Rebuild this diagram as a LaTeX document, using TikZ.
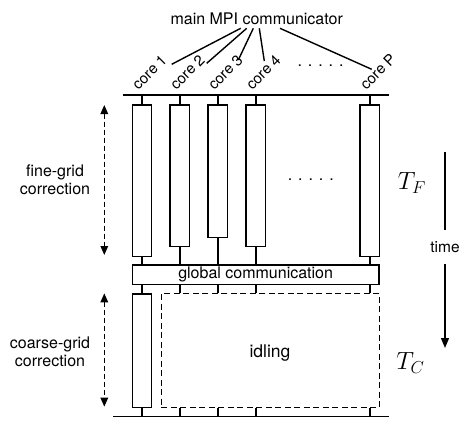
\documentclass[tikz,border=0pt]{standalone}
\usepackage{fontspec}
\setsansfont{TeX Gyre Heros}
\usetikzlibrary{arrows.meta}
\begin{document}
\begin{tikzpicture}[x=1pt,y=-1pt,line width=1.4pt,
  txt/.style={font=\sffamily\fontsize{16}{18.5}\selectfont,inner sep=0pt,align=center},
  corebox/.style={draw,minimum width=19.4pt,inner sep=0pt,anchor=north},
  corelab/.style={font=\sffamily\fontsize{15}{18}\selectfont,inner sep=0pt,rotate=45,anchor=base west},
  dasharrow/.style={dash pattern=on 5pt off 3pt,{Triangle[length=9pt,width=7.5pt]}-{Triangle[length=9pt,width=7.5pt]}},
  idlebox/.style={draw,dash pattern=on 6pt off 3.5pt,inner sep=0pt,anchor=north west},
  mathlab/.style={font=\fontsize{25}{30}\selectfont,inner sep=0pt}]
\useasboundingbox (0,0) rectangle (474,436);
% title and core labels
\node[txt] (mpi) at (256.7,19.2) {main MPI communicator};
\node[corelab] (l1) at (138,91) {core 1};
\node[corelab] (l2) at (175.8,91) {core 2};
\node[corelab] (l3) at (213.8,91) {core 3};
\node[corelab] (l4) at (251.8,91) {core 4};
\node[corelab] (l5) at (365.8,91) {core P};
\node[txt] (dtop) at (320.5,66) {. . . . .};
\coordinate (m1) at (240.7,28.3); \coordinate (e1) at (171.7,64.3);
\coordinate (m2) at (246.7,28.3); \coordinate (e2) at (206.7,63.3);
\coordinate (m3) at (253.3,28.3); \coordinate (e3) at (238.3,60);
\coordinate (m4) at (259.3,28.3); \coordinate (e4) at (264.3,61);
\coordinate (m5) at (280,28.3);   \coordinate (e5) at (371.7,69.3);
\draw (m1) -- (e1); \draw (m2) -- (e2); \draw (m3) -- (e3);
\draw (m4) -- (e4); \draw (m5) -- (e5);
% bars
\coordinate (tbl) at (123,95); \coordinate (tbr) at (389,95);
\coordinate (bbl) at (113,416.5); \coordinate (bbr) at (389,416.5);
\draw (tbl) -- (tbr);
\draw (bbl) -- (bbr);
% fine-grid boxes
\node[corebox,minimum height=151.4pt] (r1) at (142,104.3) {};
\node[corebox,minimum height=141.7pt] (r2) at (179.8,104.3) {};
\node[corebox,minimum height=132.4pt] (r3) at (217.8,104.3) {};
\node[corebox,minimum height=141.7pt] (r4) at (255.8,104.3) {};
\node[corebox,minimum height=151.4pt] (r5) at (369.8,104.3) {};
\node[txt] (dmid) at (310.8,180) {. . . . .};
% global communication
\node[txt,draw,minimum width=246.7pt,minimum height=19.3pt] (g) at (255.65,274.65) {global communication};
% coarse-grid
\node[corebox,minimum height=113.4pt] (c1) at (142,293.3) {};
\node[idlebox,minimum width=218.3pt,minimum height=113.8pt] (idle) at (160.7,292.7) {};
\node[txt,font=\sffamily\fontsize{17.5}{20}\selectfont] (idt) at (270,353) {idling};
% ticks
\foreach \r in {r1,r2,r3,r4,r5} {
  \draw (\r.north) -- (\r.north |- tbl);
  \draw (\r.south) -- (\r.south |- g.north);
}
\draw (c1.north |- g.south) -- (c1.north);
\draw (c1.south) -- (c1.south |- bbl);
\foreach \r in {r2,r3,r4,r5} {
  \draw (\r.south |- g.south) -- (\r.south |- idle.north);
  \draw (\r.south |- idle.south) -- (\r.south |- bbl);
}
% left labels and arrows
\coordinate (fa1) at (104.3,105); \coordinate (fa2) at (104.3,255);
\coordinate (ca1) at (104.3,293.3); \coordinate (ca2) at (104.3,406.7);
\draw[dasharrow] (fa1) -- (fa2);
\draw[dasharrow] (ca1) -- (ca2);
\node[txt] (fine) at (55,180) {fine-grid\\correction};
\node[txt] (coarse) at (50,352) {coarse-grid\\correction};
% right side
\node[mathlab] (tf) at (412,183) {$T_F$};
\node[mathlab] (tc) at (410.5,363) {$T_C$};
\node[txt,font=\sffamily\fontsize{15.5}{18}\selectfont,inner ysep=11pt] (time) at (445,247) {time};
\coordinate (tt) at (445,151.7); \coordinate (tb) at (445,348);
\draw (tt) -- (time.north);
\draw[-{Triangle[length=10pt,width=8pt]}] (time.south) -- (tb);
\end{tikzpicture}
\end{document}
